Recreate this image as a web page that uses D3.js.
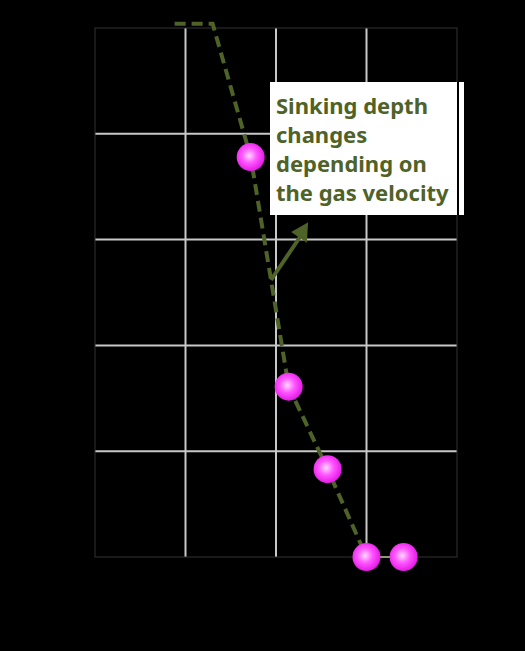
<!DOCTYPE html>
<html><head><meta charset="utf-8">
<script src="https://cdn.jsdelivr.net/npm/d3@7"></script>
<style>body{margin:0;background:#000}</style>
</head><body><svg id="chart"></svg>
<script>
// Data
const xs = [1.72, 2.14, 2.57, 3.0, 3.41];
const ys = [3.78, 1.61, 0.83, 0, 0];
const lineX = [0.88, 1.30, 1.72, 2.14, 2.57, 3.0];
const lineY = [5.04, 5.04, 3.78, 1.61, 0.83, 0];
const xTicks = [0, 1, 2, 3, 4];
const yTicks = [0, 1, 2, 3, 4, 5];
const noteLines = ["Sinking depth", "changes", "depending on", "the gas velocity"];

const width = 525, height = 651;
const margin = { top: 28, right: 68, bottom: 94, left: 95 };
const olive = "#4f6228";

const svg = d3.select("#chart").attr("width", width).attr("height", height);
svg.append("rect").attr("width", width).attr("height", height).attr("fill", "#000");

const x = d3.scaleLinear().domain([0, 4]).range([margin.left, width - margin.right]);
const y = d3.scaleLinear().domain([0, 5]).range([height - margin.bottom, margin.top]);

// Grid
svg.selectAll(".vgrid").data(xTicks.slice(1, 4)).enter().append("line")
  .attr("x1", d => x(d)).attr("x2", d => x(d))
  .attr("y1", y(5)).attr("y2", y(0))
  .attr("stroke", "#c8c8c8").attr("stroke-width", 2);
svg.selectAll(".hgrid").data(yTicks.slice(1, 5)).enter().append("line")
  .attr("x1", x(0)).attr("x2", x(4))
  .attr("y1", d => y(d)).attr("y2", d => y(d))
  .attr("stroke", "#c8c8c8").attr("stroke-width", 2);
// faint border
svg.append("rect").attr("x", x(0)).attr("y", y(5))
  .attr("width", x(4) - x(0)).attr("height", y(0) - y(5))
  .attr("fill", "none").attr("stroke", "#333").attr("stroke-width", 1);

// Dashed trend line
const pts = lineX.map((v, i) => [x(v), y(lineY[i])]);
svg.append("path").attr("d", d3.line()(pts))
  .attr("fill", "none").attr("stroke", olive).attr("stroke-width", 4)
  .attr("stroke-dasharray", "11,6");
svg.append("line")
  .attr("x1", x(xs[3])).attr("y1", y(ys[3])).attr("x2", x(xs[4])).attr("y2", y(ys[4]))
  .attr("stroke", "#8a9a6a").attr("stroke-width", 2);

// Points
const grad = svg.append("defs").append("radialGradient").attr("id", "g")
  .attr("cx", "45%").attr("cy", "45%").attr("r", "60%");
grad.append("stop").attr("offset", "0%").attr("stop-color", "#ffd8ff");
grad.append("stop").attr("offset", "45%").attr("stop-color", "#ff55ff");
grad.append("stop").attr("offset", "100%").attr("stop-color", "#e010e0");
svg.selectAll(".pt").data(xs).enter().append("ellipse")
  .attr("cx", d => x(d)).attr("cy", (d, i) => y(ys[i]))
  .attr("rx", 14).attr("ry", 14).attr("fill", "url(#g)");

// Annotation
svg.append("rect").attr("x", 270).attr("y", 82).attr("width", 194).attr("height", 133).attr("fill", "#fff");
svg.append("line").attr("x1", x(4)+1).attr("x2", x(4)+1).attr("y1", 82).attr("y2", 215)
  .attr("stroke", "#000").attr("stroke-width", 2);
svg.append("text").attr("x", 276).attr("y", 114)
  .attr("font-family", "Noto Sans, DejaVu Sans, sans-serif").attr("font-weight", "bold")
  .attr("font-size", 22).attr("fill", olive)
  .selectAll("tspan").data(noteLines).enter().append("tspan")
  .attr("x", 276).attr("dy", (d, i) => i ? 29 : 0).text(d => d);

// Arrow
svg.append("line").attr("x1", 271).attr("y1", 280).attr("x2", 302).attr("y2", 234)
  .attr("stroke", olive).attr("stroke-width", 4);
svg.append("path").attr("d", "M307,224 L293,232 L306,241 Z").attr("fill", olive).attr("stroke", olive).attr("stroke-width", 2);
</script></body></html>
